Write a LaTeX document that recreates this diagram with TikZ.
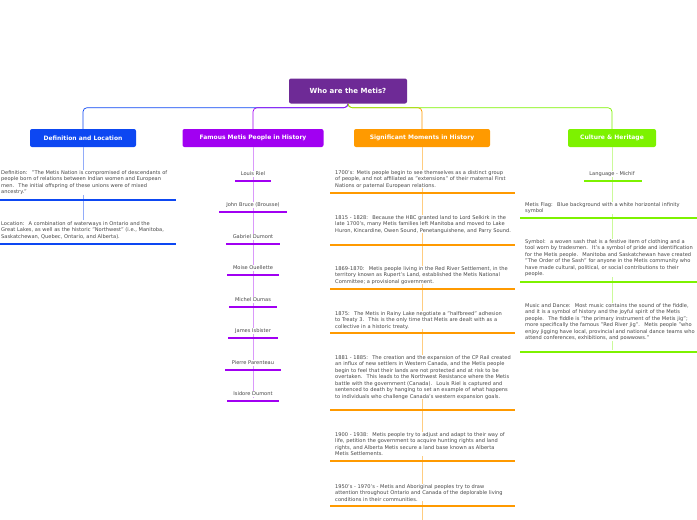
\documentclass[tikz,border=0pt]{standalone}
\usepackage{fontspec}
\setmainfont{DejaVu Sans}
\hyphenpenalty=10000
\exhyphenpenalty=10000
\begin{document}
\begin{tikzpicture}[x=1pt,y=-1pt,
  txt/.style={font=\fontsize{5.1}{6.5}\selectfont, text=black!72, inner sep=0pt, align=left, anchor=north west, fill=white},
  ctr/.style={font=\fontsize{5.1}{6.5}\selectfont, text=black!72, inner sep=1pt, fill=white},
  branch/.style={rounded corners=2pt, font=\bfseries\fontsize{6}{7}\selectfont, text=white, minimum height=18pt, inner sep=0pt},
  bar/.style={line width=2.6pt}]
\useasboundingbox (0,0) rectangle (697,520);
\clip (0,0) rectangle (697,520);
\definecolor{cblue}{HTML}{0D47F2}
\definecolor{cpurp}{HTML}{A100F2}
\definecolor{corng}{HTML}{FF9A00}
\definecolor{cgrn}{HTML}{7DF200}
\definecolor{croot}{HTML}{6E2A96}
% root
\node[branch, fill=croot, minimum width=118pt, minimum height=25pt, font=\bfseries\fontsize{7}{8}\selectfont] (root) at (348,91) {Who are the Metis?};
\node[branch, fill=cblue, minimum width=106pt] (b1) at (83,138) {Definition and Location};
\node[branch, fill=cpurp, minimum width=141pt] (b2) at (253,138) {Famous Metis People in History};
\node[branch, fill=corng, minimum width=136pt] (b3) at (422,138) {Significant Moments in History};
\node[branch, fill=cgrn, minimum width=88pt] (b4) at (612,138) {Culture \& Heritage};
\foreach \b/\c/\x in {b1/cblue/83,b2/cpurp/253,b3/corng/422,b4/cgrn/612}
  \draw[\c, line width=0.7pt, rounded corners=4pt] (root.south) -- ++(0,4) -| (\b.north);
% vertical spines
\draw[cblue!45, line width=0.6pt] (b1.south) -- (83,220);
\draw[cpurp!40, line width=0.6pt] (b2.south) -- (253,398);
\draw[corng!50, line width=0.6pt] (b3.south) -- (422,520);
\draw[cgrn!40, line width=0.6pt] (b4.south) -- (612,350);
% blue
\node[txt, text width=172pt] (d1) at (1,170) {Definition:~ "The Metis Nation is compromised of descendants of people born of relations between Indian women and European men.~ The initial offspring of these unions were of mixed ancestry."};
\draw[bar, cblue] (0,200) -- (176,200);
\node[txt, text width=172pt] (d2) at (1,221) {Location:~ A combination of waterways in Ontario and the Great Lakes, as well as the historic "Northwest" (i.e., Manitoba, Saskatchewan, Quebec, Ontario, and Alberta).};
\draw[bar, cblue] (0,244) -- (176,244);
% purple
\foreach \n/\t/\y/\w in {p1/Louis Riel/174/18, p2/John Bruce (Brousse)/205/34, p3/Gabriel Dumont/237/27, p4/Moise Ouellette/268/26, p5/Michel Dumas/300/24, p6/James Isbister/331/25, p7/Pierre Parenteau/363/28, p8/Isidore Dumont/394/26}{
  \node[ctr] (\n) at (253,\y) {\t};
  \draw[bar, cpurp] (253-\w,\y+7) -- (253+\w,\y+7);
}
% orange
\node[txt, text width=172pt] (o1) at (335,170) {1700's: Metis people begin to see themselves as a distinct group of people, and not affiliated as "extensions" of their maternal First Nations or paternal European relations.};
\draw[bar, corng] (330,193) -- (515,193);
\node[txt, text width=178pt] (o2) at (335,215) {1815 - 1828:~ Because the HBC granted land to Lord Selkirk in the late 1700's, many Metis families left Manitoba and moved to Lake Huron, Kincardine, Owen Sound, Penetanguishene, and Parry Sound.};
\draw[bar, corng] (330,245) -- (515,245);
\node[txt, text width=178pt] (o3) at (335,266) {1869-1870:~ Metis people living in the Red River Settlement, in the territory known as Rupert's Land, established the Metis National Committee; a provisional government.};
\draw[bar, corng] (330,289) -- (515,289);
\node[txt, text width=172pt] (o4) at (335,311) {1875:~ The Metis in Rainy Lake negotiate a "halfbreed" adhesion to Treaty 3.~ This is the only time that Metis are dealt with as a collective in a historic treaty.};
\draw[bar, corng] (330,333) -- (515,333);
\node[txt, text width=178pt] (o5) at (335,355) {1881 - 1885:~ The creation and the expansion of the CP Rail created an influx of new settlers in Western Canada, and the Metis people begin to feel that their lands are not protected and at risk to be overtaken.~ This leads to the Northwest Resistance where the Metis battle with the government (Canada).~ Louis Riel is captured and sentenced to death by hanging to set an example of what happens to individuals who challenge Canada's western expansion goals.};
\draw[bar, corng] (330,410) -- (515,410);
\node[txt, text width=172pt] (o6) at (335,432) {1900 - 1938:~ Metis people try to adjust and adapt to their way of life, petition the government to acquire hunting rights and land rights, and Alberta Metis secure a land base known as Alberta Metis Settlements.};
\draw[bar, corng] (330,461) -- (515,461);
\node[txt, text width=172pt] (o7) at (335,484) {1950's - 1970's - Metis and Aboriginal peoples try to draw attention throughout Ontario and Canada of the deplorable living conditions in their communities.};
\draw[bar, corng] (330,506) -- (515,506);
% green
\node[ctr] (g1) at (612,174) {Language - Michif};
\draw[bar, cgrn] (584,181) -- (642,181);
\node[txt, text width=168pt] (g2) at (525,202) {Metis Flag:~ Blue background with a white horizontal infinity symbol};
\draw[bar, cgrn] (520,218) -- (697,218);
\node[txt, text width=171pt] (g3) at (525,239) {Symbol:~ a woven sash that is a festive item of clothing and a tool worn by tradesmen.~ It's a symbol of pride and identification for the Metis people.~ Manitoba and Saskatchewan have created "The Order of the Sash" for anyone in the Metis community who have made cultural, political, or social contributions to their people.};
\draw[bar, cgrn] (520,282) -- (697,282);
\node[txt, text width=171pt] (g4) at (525,303) {Music and Dance:~ Most music contains the sound of the fiddle, and it is a symbol of history and the joyful spirit of the Metis people.~ The fiddle is "the primary instrument of the Metis jig"; more specifically the famous "Red River jig".~ Metis people "who enjoy jigging have local, provincial and national dance teams who attend conferences, exhibitions, and powwows."};
\draw[bar, cgrn] (520,352) -- (697,352);
\end{tikzpicture}
\end{document}
